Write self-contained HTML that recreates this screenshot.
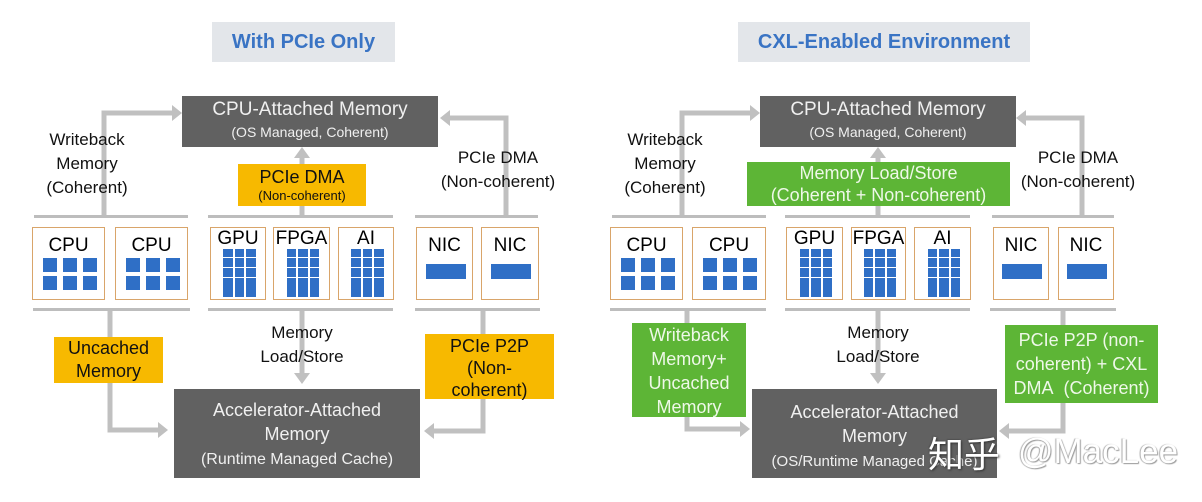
<!DOCTYPE html>
<html><head><meta charset="utf-8"><style>
body{margin:0;width:1202px;height:502px;background:#fff;position:relative;overflow:hidden;font-family:"Liberation Sans",sans-serif}
.a{position:absolute;box-sizing:border-box}
.title{background:#e3e6ea;color:#3a74c4;font-weight:bold;font-size:20px;display:flex;align-items:center;justify-content:center}
.dk{background:#616161;color:#f0f0f0;text-align:center}
.or{background:#f7b900;color:#111;text-align:center}
.gr{background:#5db536;color:#eef8e8;text-align:center}
.chip{border:1px solid #d9a56a;background:#fff}
.lbl{text-align:center;font-size:17px;color:#111;line-height:24px}
.ct{position:absolute;left:0;right:0;text-align:center;font-size:19px;color:#000}
.sq{position:absolute;background:#2f6fc6}
.bar{position:absolute;background:#bdbdbd;height:3px}
</style></head><body>
<svg class="a" style="left:0;top:0" width="1202" height="502">
<g stroke="#c0c0c0" stroke-width="5" fill="none">
<polyline points="104,215 104,113 176,113"/>
<polyline points="506,215 506,118 448,118"/>
<line x1="302" y1="215" x2="302" y2="155"/>
<polyline points="110,309 110,430 162,430"/>
<line x1="302" y1="309" x2="302" y2="375"/>
<polyline points="483,309 483,431 430,431"/>
<polyline points="682,215 682,113 754,113"/>
<polyline points="1082,215 1082,118 1024,118"/>
<line x1="878" y1="215" x2="878" y2="155"/>
<polyline points="687,309 687,429 744,429"/>
<line x1="878" y1="309" x2="878" y2="375"/>
<polyline points="1063,309 1063,431 1005,431"/>
</g>
<g fill="#c0c0c0">
<polygon points="182,113 172,105 172,121"/>
<polygon points="440,118 450,110 450,126"/>
<polygon points="302,147 294,158 310,158"/>
<polygon points="168,430 158,422 158,438"/>
<polygon points="302,384 294,373 310,373"/>
<polygon points="424,431 434,423 434,439"/>
<polygon points="760,113 750,105 750,121"/>
<polygon points="1016,118 1026,110 1026,126"/>
<polygon points="878,147 870,158 886,158"/>
<polygon points="750,429 740,421 740,437"/>
<polygon points="878,384 870,373 886,373"/>
<polygon points="999,431 1009,423 1009,439"/>
</g>
</svg>

<div class="a title" style="left:212px;top:22px;width:183px;height:40px">With PCIe Only</div>
<div class="a dk" style="left:182px;top:96px;width:256px;height:51px"><div style="font-size:19px;margin-top:3px">CPU-Attached Memory</div><div style="font-size:14px;margin-top:3px">(OS Managed, Coherent)</div></div>
<div class="a lbl" style="left:27px;top:128px;width:120px">Writeback<br>Memory<br>(Coherent)</div>
<div class="a lbl" style="left:420px;top:146px;width:156px">PCIe DMA<br>(Non-coherent)</div>
<div class="a or" style="left:238px;top:164px;width:128px;height:42px"><div style="font-size:18px;margin-top:3px">PCIe DMA</div><div style="font-size:13px">(Non-coherent)</div></div>
<div class="bar" style="left:34px;top:215px;width:154px"></div>
<div class="bar" style="left:208px;top:215px;width:185px"></div>
<div class="bar" style="left:415px;top:215px;width:123px"></div>
<div class="bar" style="left:33px;top:308px;width:157px"></div>
<div class="bar" style="left:208px;top:308px;width:185px"></div>
<div class="bar" style="left:415px;top:308px;width:125px"></div>
<div class="a lbl" style="left:232px;top:321px;width:140px">Memory<br>Load/Store</div>
<div class="a or" style="left:54px;top:337px;width:109px;height:46px;font-size:18px;line-height:23px">Uncached<br>Memory</div>
<div class="a or" style="left:425px;top:334px;width:129px;height:65px;font-size:18px;line-height:22px;padding-top:1px">PCIe P2P<br>(Non-<br>coherent)</div>
<div class="a dk" style="left:174px;top:389px;width:246px;height:89px;font-size:18px;line-height:24px;padding-top:9px">Accelerator-Attached<br>Memory<br><span style="font-size:16px">(Runtime Managed Cache)</span></div>

<div class="a title" style="left:738px;top:22px;width:292px;height:40px">CXL-Enabled Environment</div>
<div class="a dk" style="left:760px;top:96px;width:256px;height:51px"><div style="font-size:19px;margin-top:3px">CPU-Attached Memory</div><div style="font-size:14px;margin-top:3px">(OS Managed, Coherent)</div></div>
<div class="a lbl" style="left:605px;top:128px;width:120px">Writeback<br>Memory<br>(Coherent)</div>
<div class="a lbl" style="left:1000px;top:146px;width:156px">PCIe DMA<br>(Non-coherent)</div>
<div class="a gr" style="left:747px;top:162px;width:263px;height:44px;font-size:18px;line-height:22px">Memory Load/Store<br>(Coherent + Non-coherent)</div>
<div class="bar" style="left:612px;top:215px;width:154px"></div>
<div class="bar" style="left:785px;top:215px;width:185px"></div>
<div class="bar" style="left:992px;top:215px;width:122px"></div>
<div class="bar" style="left:610px;top:308px;width:156px"></div>
<div class="bar" style="left:785px;top:308px;width:185px"></div>
<div class="bar" style="left:990px;top:308px;width:126px"></div>
<div class="a lbl" style="left:808px;top:321px;width:140px">Memory<br>Load/Store</div>
<div class="a gr" style="left:632px;top:323px;width:114px;height:94px;font-size:18px;line-height:24px;padding-top:0px">Writeback<br>Memory+<br>Uncached<br>Memory</div>
<div class="a gr" style="left:1005px;top:325px;width:153px;height:78px;font-size:18px;line-height:24px;padding-top:3px">PCIe P2P (non-<br>coherent) + CXL<br>DMA&nbsp; (Coherent)</div>
<div class="a dk" style="left:752px;top:389px;width:245px;height:89px;font-size:18px;line-height:24px;padding-top:11px">Accelerator-Attached<br>Memory<br><span style="font-size:15px">(OS/Runtime Managed Cache)</span></div>

<div class="a" style="left:928px;top:432px;font-size:36px;font-family:'Noto Sans CJK SC',sans-serif;color:#fff;text-shadow:1px 1px 2px #333,-1px -1px 1px #555;line-height:40px">知乎</div>
<div class="a" style="left:1018px;top:432px;font-size:35px;color:#fff;text-shadow:1px 1px 1px #999,-1px 0 1px #aaa;line-height:40px">@MacLee</div>

<div id="chips"></div>
<script>
var c=document.getElementById('chips'),h='';
function box(x,w,label,kind){
 h+='<div class="a chip" style="left:'+x+'px;top:227px;width:'+w+'px;height:73px">';
 var ty=kind=='acc'?0:7;
 h+='<div class="ct" style="top:'+ty+'px">'+label+'</div>';
 if(kind=='cpu'){
  var off=(w-54)/2;
  for(var r=0;r<2;r++)for(var k=0;k<3;k++)h+='<div class="sq" style="left:'+(off+k*20)+'px;top:'+(30+r*18)+'px;width:14px;height:14px"></div>';
 }else if(kind=='acc'){
  var off=(w-32)/2, rows=[[21,8],[30,9],[40,9],[50,19]];
  for(var r=0;r<4;r++)for(var k=0;k<3;k++)h+='<div class="sq" style="left:'+(off+k*11.5)+'px;top:'+rows[r][0]+'px;width:9.5px;height:'+rows[r][1]+'px"></div>';
 }else{
  h+='<div class="sq" style="left:'+((w-40)/2)+'px;top:36px;width:40px;height:15px"></div>';
 }
 h+='</div>';
}
[[32,73,'CPU','cpu'],[115,73,'CPU','cpu'],[210,56,'GPU','acc'],[273,57,'FPGA','acc'],[338,56,'AI','acc'],[416,57,'NIC','nic'],[481,58,'NIC','nic'],
 [610,73,'CPU','cpu'],[692,74,'CPU','cpu'],[786,57,'GPU','acc'],[851,55,'FPGA','acc'],[914,57,'AI','acc'],[993,56,'NIC','nic'],[1058,56,'NIC','nic']].forEach(function(b){box(b[0],b[1],b[2],b[3]);});
c.innerHTML=h;
</script>
</body></html>
